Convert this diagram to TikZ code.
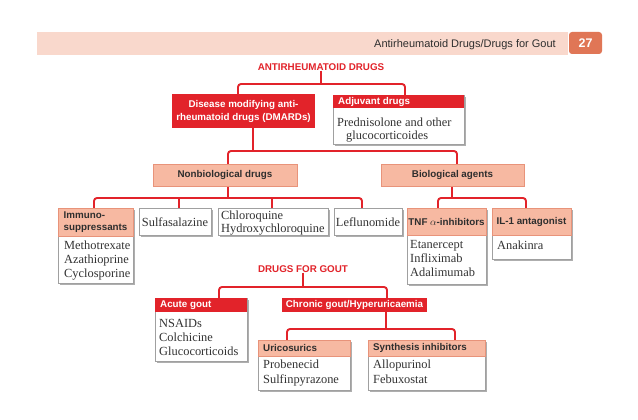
\documentclass[tikz,border=0pt]{standalone}
\usepackage{fontspec}
\setmainfont{Liberation Serif}
\setsansfont{Liberation Sans}
\usetikzlibrary{calc,shadows,backgrounds}

\definecolor{gred}{HTML}{E2232A}
\definecolor{salmon}{HTML}{F7B9A2}
\definecolor{salmonline}{HTML}{E8937A}
\definecolor{barpink}{HTML}{F9D8CC}
\definecolor{pagenum}{HTML}{E07656}
\definecolor{txt}{HTML}{2E2E2E}
\definecolor{bodytxt}{HTML}{333333}
\definecolor{boxline}{HTML}{A0A0A0}

\tikzset{
  hd/.style={font=\sffamily\bfseries\fontsize{9.8}{12}\selectfont},
  conn/.style={draw=gred, line width=1.9pt, rounded corners=3pt},
  wbox/.style={draw=boxline, fill=white, line width=0.6pt, inner sep=0pt, outer sep=0pt,
    drop shadow={shadow xshift=1.6pt, shadow yshift=-1.6pt, fill=black!45, opacity=0.7}},
  redbox/.style={fill=gred, inner sep=0pt, outer sep=0pt, text=white, hd},
  redband/.style={fill=gred, inner sep=0pt, outer sep=0pt},
  salbox/.style={fill=salmon, draw=salmonline, line width=0.6pt, inner sep=0pt, outer sep=0pt, text=txt, hd},
  hdtext/.style={hd, inner sep=0pt, anchor=west, align=left},
  body/.style={font=\fontsize{12.4}{14}\selectfont, text=bodytxt, inner sep=0pt, align=left, anchor=north west},
  bodyc/.style={font=\fontsize{12.4}{13}\selectfont, text=bodytxt, align=left},
}

\begin{document}
\begin{tikzpicture}[x=1pt,y=-1pt]
\useasboundingbox (0,0) rectangle (638,420);

% page header
\node[fill=barpink, minimum width=531pt, minimum height=23pt, inner sep=0pt, anchor=north west] (bar) at (37,32) {};
\node[anchor=east, font=\sffamily\fontsize{11}{13}\selectfont, text=txt, inner sep=0pt] (bartext) at (556,44.5) {Antirheumatoid Drugs/Drugs for Gout};
\node[fill=pagenum, rounded corners=3pt, minimum width=33pt, minimum height=22pt, inner sep=0pt, text=white, font=\sffamily\bfseries\fontsize{12.5}{14}\selectfont] (pg) at (585.5,43) {27};

% antirheumatoid
\node[text=gred, hd, inner sep=0pt] (title) at (321,67) {ANTIRHEUMATOID DRUGS};

\node[redbox, minimum width=143pt, minimum height=34pt, align=center, font=\sffamily\bfseries\fontsize{9.8}{13}\selectfont] (dmards) at (243.5,111) {Disease modifying anti-\\rheumatoid drugs (DMARDs)};

\node[wbox, minimum width=131pt, minimum height=49pt] (adj) at (398.5,119.5) {};
\node[redband, minimum width=131pt, minimum height=13pt] (adjh) at (398.5,101.5) {};
\node[hdtext, text=white] (adjt) at (338,101.5) {Adjuvant drugs};
\node[body, font=\fontsize{12.4}{13}\selectfont] (adjb) at (337,118) {Prednisolone and other\\\hspace*{9pt}glucocorticoides};

\node[salbox, minimum width=144pt, minimum height=22pt] (nonbio) at (225,175) {Nonbiological drugs};
\node[salbox, minimum width=143pt, minimum height=22pt] (bio) at (452.5,175) {Biological agents};

\node[wbox, minimum width=75pt, minimum height=75pt] (imm) at (95.5,245.5) {};
\node[salbox, minimum width=75pt, minimum height=28pt] (immh) at (95.5,222) {};
\node[hdtext, text=txt] (immt) at (63.5,222) {Immuno-\\suppressants};
\node[body] (immb) at (64,240.5) {Methotrexate\\Azathioprine\\Cyclosporine};

\node[wbox, bodyc, minimum width=72pt, minimum height=27pt] (sulfa) at (175,222) {Sulfasalazine};
\node[wbox, minimum width=110pt, minimum height=27pt] (chloro) at (273,221.5) {};
\node[body, font=\fontsize{12.4}{13}\selectfont] (chlorot) at (221,211) {Chloroquine\\Hydroxychloroquine};
\node[wbox, bodyc, minimum width=68pt, minimum height=27pt] (leflu) at (368,222) {Leflunomide};

\node[wbox, minimum width=79pt, minimum height=76pt] (tnf) at (446.5,246) {};
\node[salbox, minimum width=79pt, minimum height=27pt] (tnfh) at (446.5,221.5) {TNF $\alpha$-inhibitors};
\node[body] (tnfb) at (410,240.5) {Etanercept\\Infliximab\\Adalimumab};

\node[wbox, minimum width=79pt, minimum height=51pt] (il1) at (531.5,233.5) {};
\node[salbox, minimum width=79pt, minimum height=27pt] (il1h) at (531.5,221.5) {IL-1 antagonist};
\node[body] (il1b) at (497,240.5) {Anakinra};

% gout
\node[text=gred, hd, inner sep=0pt] (gtitle) at (303,269) {DRUGS FOR GOUT};

\node[wbox, minimum width=92pt, minimum height=63pt] (acute) at (201,329.5) {};
\node[redband, minimum width=92pt, minimum height=14pt] (acuteh) at (201,305) {};
\node[hdtext, text=white] (acutet) at (160,305) {Acute gout};
\node[body] (acuteb) at (159,319) {NSAIDs\\Colchicine\\Glucocorticoids};

\node[redbox, minimum width=145pt, minimum height=14pt] (chronic) at (354.5,305) {Chronic gout/Hyperuricaemia};

\node[wbox, minimum width=92pt, minimum height=50pt] (uric) at (304,365) {};
\node[salbox, minimum width=92pt, minimum height=16pt] (urich) at (304,348) {};
\node[hdtext, text=txt] (urict) at (263,348) {Uricosurics};
\node[body, font=\fontsize{12.4}{14.5}\selectfont] (uricb) at (263,360) {Probenecid\\Sulfinpyrazone};

\node[wbox, minimum width=117pt, minimum height=50pt] (synth) at (426.5,365) {};
\node[salbox, minimum width=117pt, minimum height=16pt] (synthh) at (426.5,348) {};
\node[hdtext, text=txt] (syntht) at (373,348) {Synthesis inhibitors};
\node[body, font=\fontsize{12.4}{14.5}\selectfont] (synthb) at (373,360) {Allopurinol\\Febuxostat};

% junctions
\coordinate (j1) at (321,84);
\coordinate (j2) at (253,151);
\coordinate (j3) at (228,198);
\coordinate (j4) at (452,198);
\coordinate (j5) at (303,287);
\coordinate (j6) at (386,329);

\begin{scope}[on background layer]
\fill[white] (0,0) rectangle (638,420);
\draw[conn] (title.south) -- (j1);
\draw[conn] ($(dmards.north)+(-5.5,0)$) |- (j1) -| ($(adj.north)+(6.5,0)$);
\draw[conn] ($(dmards.south)+(9.5,0)$) -- (j2);
\draw[conn] ($(nonbio.north)+(3,0)$) |- (j2) -| ($(bio.north)+(4.5,0)$);
\draw[conn] ($(nonbio.south)+(3,0)$) -- (j3);
\draw[conn] ($(immh.north)+(-1.5,0)$) |- (j3) -| ($(leflu.north)+(-6,0)$);
\draw[conn] ($(sulfa.north)+(4,0)$) -- ++(0,-10);
\draw[conn] ($(chloro.north)+(-1,0)$) -- ++(0,-10);
\draw[conn] ($(bio.south)+(-0.5,0)$) -- (j4);
\draw[conn] ($(tnfh.north)+(-8.5,0)$) |- (j4) -| ($(il1h.north)+(-5.5,0)$);
\draw[conn] (gtitle.south) -- (j5);
\draw[conn] ($(acuteh.north)+(18,0)$) |- (j5) -| ($(chronic.north)+(32.5,0)$);
\draw[conn] ($(chronic.south)+(31.5,0)$) -- (j6);
\draw[conn] ($(urich.north)+(-17,0)$) |- (j6) -| ($(synthh.north)+(28.5,0)$);
\end{scope}
\end{tikzpicture}
\end{document}
